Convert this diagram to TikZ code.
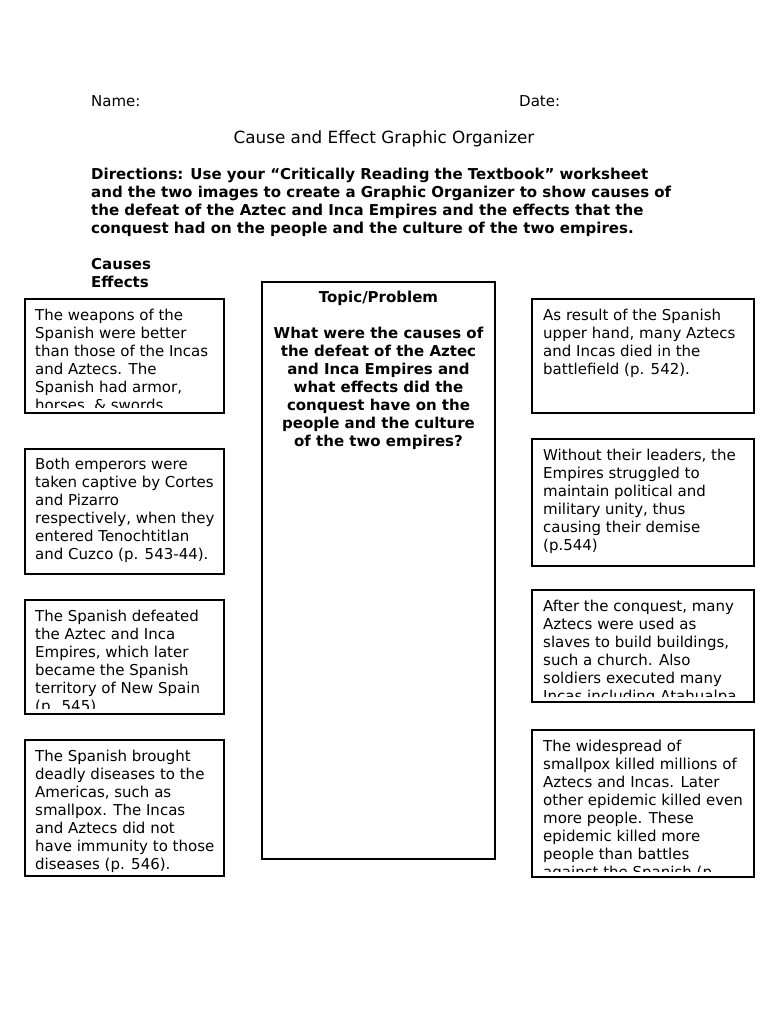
\documentclass[tikz,border=0pt]{standalone}
\usepackage{fontspec}
\setmainfont{DejaVu Sans}
\begin{document}
\begin{tikzpicture}[x=1pt,y=-1pt,
  box/.style={draw, line width=2.2pt},
  btext/.style={anchor=north west, inner sep=0pt, align=left, font=\fontsize{15}{18}\selectfont},
  htext/.style={anchor=base west, inner sep=0pt, font=\fontsize{15}{18}\selectfont},
  ctext/.style={anchor=north, inner sep=0pt, align=center, font=\fontsize{15}{18}\selectfont\bfseries}]
\useasboundingbox[fill=white] (0,0) rectangle (768,1024);
% header
\node[htext] (name) at (91,107) {Name:};
\node[htext] (date) at (519,107) {Date:};
\node[htext, anchor=base, font=\fontsize{16.8}{18}\selectfont] (title) at (384,144) {Cause and Effect Graphic Organizer};
\node[btext, font=\fontsize{15}{18}\selectfont\bfseries] (dir) at (91,167.5) {Directions: Use your “Critically Reading the Textbook” worksheet\\and the two images to create a Graphic Organizer to show causes of\\the defeat of the Aztec and Inca Empires and the effects that the\\conquest had on the people and the culture of the two empires.};
\node[btext, font=\fontsize{15}{18}\selectfont\bfseries] (ce) at (91,258.5) {Causes\\Effects};
% center box
\draw[box] (262,282) rectangle (495,859);
\node (center) at (378.5,570.5) {};
\node[ctext] (topic) at (378.5,290.5) {Topic/Problem\\[18pt]What were the causes of\\the defeat of the Aztec\\and Inca Empires and\\what effects did the\\conquest have on the\\people and the culture\\of the two empires?};
% left boxes
\draw[box] (25,299) rectangle (224,413);
\begin{scope}\clip (26,300) rectangle (223,407);
\node[btext] (l1) at (35,308.5) {The weapons of the\\Spanish were better\\than those of the Incas\\and Aztecs. The\\Spanish had armor,\\horses, \& swords.};
\end{scope}
\draw[box] (25,449) rectangle (224,574);
\begin{scope}\clip (26,450) rectangle (223,572);
\node[btext] (l2) at (35,457.5) {Both emperors were\\taken captive by Cortes\\and Pizarro\\respectively, when they\\entered Tenochtitlan\\and Cuzco (p. 543-44).};
\end{scope}
\draw[box] (25,600) rectangle (224,714);
\begin{scope}\clip (26,601) rectangle (223,708);
\node[btext] (l3) at (35,609.5) {The Spanish defeated\\the Aztec and Inca\\Empires, which later\\became the Spanish\\territory of New Spain\\(p. 545).};
\end{scope}
\draw[box] (25,740) rectangle (224,876);
\begin{scope}\clip (26,741) rectangle (223,874);
\node[btext] (l4) at (35,749.5) {The Spanish brought\\deadly diseases to the\\Americas, such as\\smallpox. The Incas\\and Aztecs did not\\have immunity to those\\diseases (p. 546).};
\end{scope}
% right boxes
\draw[box] (532,299) rectangle (754,413);
\begin{scope}\clip (533,300) rectangle (753,411);
\node[btext] (r1) at (543,308.5) {As result of the Spanish\\upper hand, many Aztecs\\and Incas died in the\\battlefield (p. 542).};
\end{scope}
\draw[box] (532,439) rectangle (754,566);
\begin{scope}\clip (533,440) rectangle (753,564);
\node[btext] (r2) at (543,448.5) {Without their leaders, the\\Empires struggled to\\maintain political and\\military unity, thus\\causing their demise\\(p.544)};
\end{scope}
\draw[box] (532,590) rectangle (754,702);
\begin{scope}\clip (533,591) rectangle (753,696);
\node[btext] (r3) at (543,599.5) {After the conquest, many\\Aztecs were used as\\slaves to build buildings,\\such a church. Also\\soldiers executed many\\Incas including Atahualpa};
\end{scope}
\draw[box] (532,730) rectangle (754,877);
\begin{scope}\clip (533,731) rectangle (753,871);
\node[btext] (r4) at (543,739.5) {The widespread of\\smallpox killed millions of\\Aztecs and Incas. Later\\other epidemic killed even\\more people. These\\epidemic killed more\\people than battles\\against the Spanish (p.};
\end{scope}
\end{tikzpicture}
\end{document}
